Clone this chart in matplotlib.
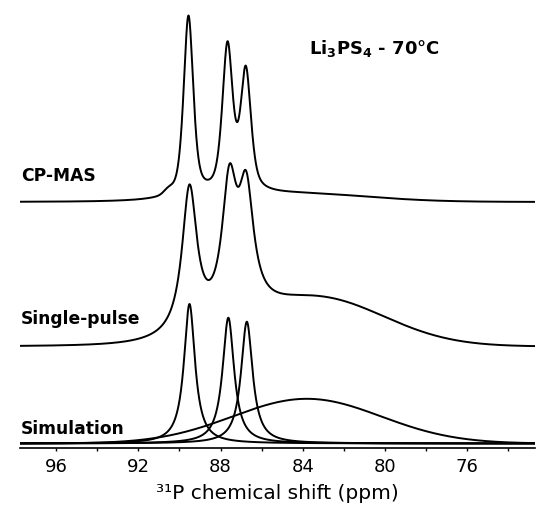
import numpy as np
import matplotlib
matplotlib.use("Agg")
import matplotlib.pyplot as plt
from matplotlib.ticker import MultipleLocator

plt.rcParams['font.family'] = ['DejaVu Sans']
plt.rcParams['mathtext.fontset'] = 'dejavusans'

# peak tables: position (ppm), height (a.u.), fwhm (ppm), lorentzian fraction
cp_center = [89.56, 87.66, 86.77, 90.55, 84.3]
cp_height = [181, 146, 120, 4, 8]
cp_fwhm = [0.56, 0.60, 0.60, 0.5, 8.2]
cp_eta = [0.6, 0.6, 0.6, 0.0, 0.0]

sp_center = [89.51, 87.57, 86.75, 83.3]
sp_height = [145, 129, 116, 47]
sp_fwhm = [0.88, 0.88, 0.88, 7.8]
sp_eta = [1.0, 1.0, 1.0, 0.0]

sim_center = [89.51, 87.62, 86.72, 83.8]
sim_height = [139.5, 125.8, 121.8, 44.7]
sim_fwhm = [0.65, 0.68, 0.68, 8.5]
sim_eta = [1.0, 1.0, 1.0, 0.0]

trace_names = ['CP-MAS', 'Single-pulse', 'Simulation']
trace_offsets = [245.7, 101.0, 4.2]


def pseudo_voigt(x, c, h, w, eta):
    lor = 1.0 / (1.0 + ((x - c) / (w / 2.0)) ** 2)
    gau = np.exp(-4 * np.log(2) * (x - c) ** 2 / w ** 2)
    return h * (eta * lor + (1 - eta) * gau)


ppm = np.linspace(97.78, 72.70, 4000)

fig = plt.figure(figsize=(5.5, 5.11), dpi=100)
ax = fig.add_axes([19.5 / 550, (511 - 447.7) / 511, (535 - 19.5) / 550, 447.7 / 511])

# CP-MAS
cp = sum(pseudo_voigt(ppm, c, h, w, e) for c, h, w, e in zip(cp_center, cp_height, cp_fwhm, cp_eta))
ax.plot(ppm, cp + trace_offsets[0], color='black', lw=1.4)

# single pulse
sp = sum(pseudo_voigt(ppm, c, h, w, e) for c, h, w, e in zip(sp_center, sp_height, sp_fwhm, sp_eta))
ax.plot(ppm, sp + trace_offsets[1], color='black', lw=1.4)

# simulation: each component on its own
for c, h, w, e in zip(sim_center, sim_height, sim_fwhm, sim_eta):
    ax.plot(ppm, pseudo_voigt(ppm, c, h, w, e) + trace_offsets[2], color='black', lw=1.4)

ax.set_xlim(97.78, 72.70)
ax.set_ylim(0, 447.7)

label_y = [267.0, 123.7, 13.7]
for name, y in zip(trace_names, label_y):
    ax.text(97.7, y, name, fontsize=12.3, fontweight='bold', va='baseline', ha='left')

ax.text(83.68, 393.7, r'$\mathbf{Li_3PS_4}$ - 70°C', fontsize=13, fontweight='bold',
        va='baseline', ha='left')

for s in ['left', 'top', 'right']:
    ax.spines[s].set_visible(False)
ax.spines['bottom'].set_linewidth(1.2)
ax.set_yticks([])
ax.xaxis.set_major_locator(MultipleLocator(4))
ax.xaxis.set_minor_locator(MultipleLocator(2))
ax.tick_params(axis='x', which='both', direction='out', length=2.5, width=1.0, pad=5)
ax.tick_params(axis='x', which='major', labelsize=13)
ax.set_xlabel('³¹P chemical shift (ppm)', fontsize=14.5, labelpad=6)

fig.savefig('out.png', dpi=100)
